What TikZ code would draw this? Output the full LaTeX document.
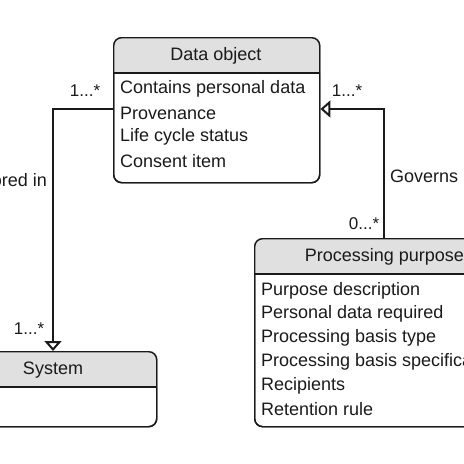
\documentclass[tikz,border=0pt]{standalone}
\usepackage{fontspec}
\setmainfont{Liberation Sans}
\usepackage{xcolor}
\usetikzlibrary{arrows.meta,positioning,calc}
\definecolor{umlline}{HTML}{1A1A1A}
\definecolor{umlhead}{HTML}{E0E0E0}
\tikzset{
  classbox/.style={rounded corners=8pt, draw=umlline, line width=1.4pt, anchor=north west, inner sep=0pt},
  headtext/.style={font=\fontsize{18}{21}\selectfont, text=umlline, inner sep=0pt},
  attrtext/.style={font=\fontsize{18}{21}\selectfont, text=umlline, anchor=west, inner sep=0pt},
  multtext/.style={font=\fontsize{17}{20}\selectfont, text=umlline, inner sep=0pt},
  assoc/.style={-{Triangle[open, length=10pt, width=17pt, line width=2pt]}, line width=1.2pt, draw=umlline}
}
\begin{document}
\begin{tikzpicture}[x=1pt, y=-1pt]
  \useasboundingbox (0,0) rectangle (464,464);
  \clip (0,0) rectangle (464,464);
  % data object class
  \node[classbox, minimum width=206pt, minimum height=145pt] (dobj) at (113,37) {};
  \fill[umlhead] ($(dobj.north west)+(0,36)$) [rounded corners=8pt] -- (dobj.north west) -- (dobj.north east) [sharp corners] -- ($(dobj.north east)+(0,36)$) -- cycle;
  \node[classbox, minimum width=206pt, minimum height=145pt] at (113,37) {};
  \draw[umlline, line width=1.4pt] ($(dobj.north west)+(0,36)$) -- ($(dobj.north east)+(0,36)$);
  \node[headtext] (dobjtitle) at (216,56) {Data object};
  \node[attrtext] (dobja) at (120,89) {Contains personal data};
  \node[attrtext] (dobjb) at (120,113) {Provenance};
  \node[attrtext] (dobjc) at (120,137) {Life cycle status};
  \node[attrtext] (dobjd) at (120,161) {Consent item};
  % system class
  \node[classbox, minimum width=206pt, minimum height=75pt] (sys) at (-50,351) {};
  \fill[umlhead] ($(sys.north west)+(0,36)$) [rounded corners=8pt] -- (sys.north west) -- (sys.north east) [sharp corners] -- ($(sys.north east)+(0,36)$) -- cycle;
  \node[classbox, minimum width=206pt, minimum height=75pt] at (-50,351) {};
  \draw[umlline, line width=1.4pt] ($(sys.north west)+(0,36)$) -- ($(sys.north east)+(0,36)$);
  \node[headtext] (systitle) at (53,370) {System};
  % processing purposes class
  \node[classbox, minimum width=260pt, minimum height=188pt] (purp) at (254,238) {};
  \fill[umlhead] ($(purp.north west)+(0,36)$) [rounded corners=8pt] -- (purp.north west) -- (purp.north east) [sharp corners] -- ($(purp.north east)+(0,36)$) -- cycle;
  \node[classbox, minimum width=260pt, minimum height=188pt] at (254,238) {};
  \draw[umlline, line width=1.4pt] ($(purp.north west)+(0,36)$) -- ($(purp.north east)+(0,36)$);
  \node[headtext] (purptitle) at (389,257) {Processing purposes};
  \node[attrtext] (purpa) at (261,291) {Purpose description};
  \node[attrtext] (purpb) at (261,314) {Personal data required};
  \node[attrtext] (purpc) at (261,338) {Processing basis type};
  \node[attrtext] (purpd) at (261,362) {Processing basis specification};
  \node[attrtext] (purpe) at (261,386) {Recipients};
  \node[attrtext] (purpf) at (261,409) {Retention rule};
  % connectors
  \coordinate (storedbend) at (53,109);
  \coordinate (govbend) at (384,109);
  \draw[assoc] (dobj.west |- storedbend) -- (storedbend) -- (storedbend |- sys.north);
  \draw[assoc] (govbend |- purp.north) -- (govbend) -- (dobj.east |- govbend);
  % labels
  \node[multtext] (multsa) at (85,91) {1...*};
  \node[multtext] (multsb) at (29,329) {1...*};
  \node[multtext] (multga) at (347,91) {1...*};
  \node[multtext] (multgb) at (364,224) {0...*};
  \node[headtext, anchor=east] (storedlbl) at (47,180) {Stored in};
  \node[headtext, anchor=west] (govlbl) at (390,176) {Governs};
\end{tikzpicture}
\end{document}
